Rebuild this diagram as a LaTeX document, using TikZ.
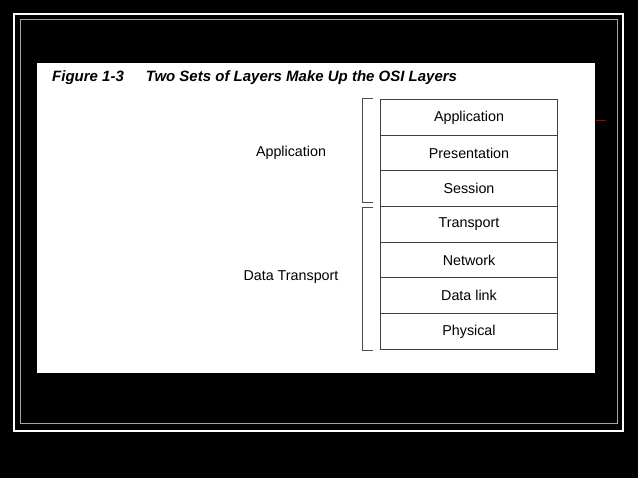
\documentclass[tikz,border=0pt]{standalone}
\usepackage{fontspec}
\setmainfont{Liberation Sans}
\begin{document}
\begin{tikzpicture}[x=1pt,y=-1pt,
  layer/.style={draw=black!75,line width=1pt,minimum width=177pt,minimum height=35.7pt,inner sep=0pt,font=\fontsize{14.3}{16}\selectfont,anchor=north west},
  lbl/.style={font=\fontsize{14.3}{16}\selectfont},
  brk/.style={draw=black!70,line width=1pt}]
\fill[black] (0,0) rectangle (638,478);
\useasboundingbox (0,0) rectangle (638,478);
\draw[white,line width=2pt] (14,14) rectangle (623,431);
\draw[black!35!white,line width=1pt] (20,20) rectangle (617,424);
\fill[white] (37,63) rectangle (595,373);
\draw[red!70!black,line width=0.7pt] (596,120) -- (606,120);
\node[anchor=west,inner sep=0pt,font=\bfseries\itshape\fontsize{15}{17}\selectfont] (title) at (52,78) {Figure 1-3\hspace{22pt}Two Sets of Layers Make Up the OSI Layers};
\foreach \t [count=\i from 0] in {Application,Presentation,Session,Transport,Network,Data link,Physical}
  \node[layer] (L\i) at (380,{99+\i*35.7}) {\t};
\draw[brk] (373,99) -- (362,99) -- (362,203) -- (373,203);
\draw[brk] (373,208) -- (362,208) -- (362,351) -- (373,351);
\node[lbl] (app) at (291,153) {Application};
\node[lbl] (dt) at (291,277) {Data Transport};
\end{tikzpicture}
\end{document}
